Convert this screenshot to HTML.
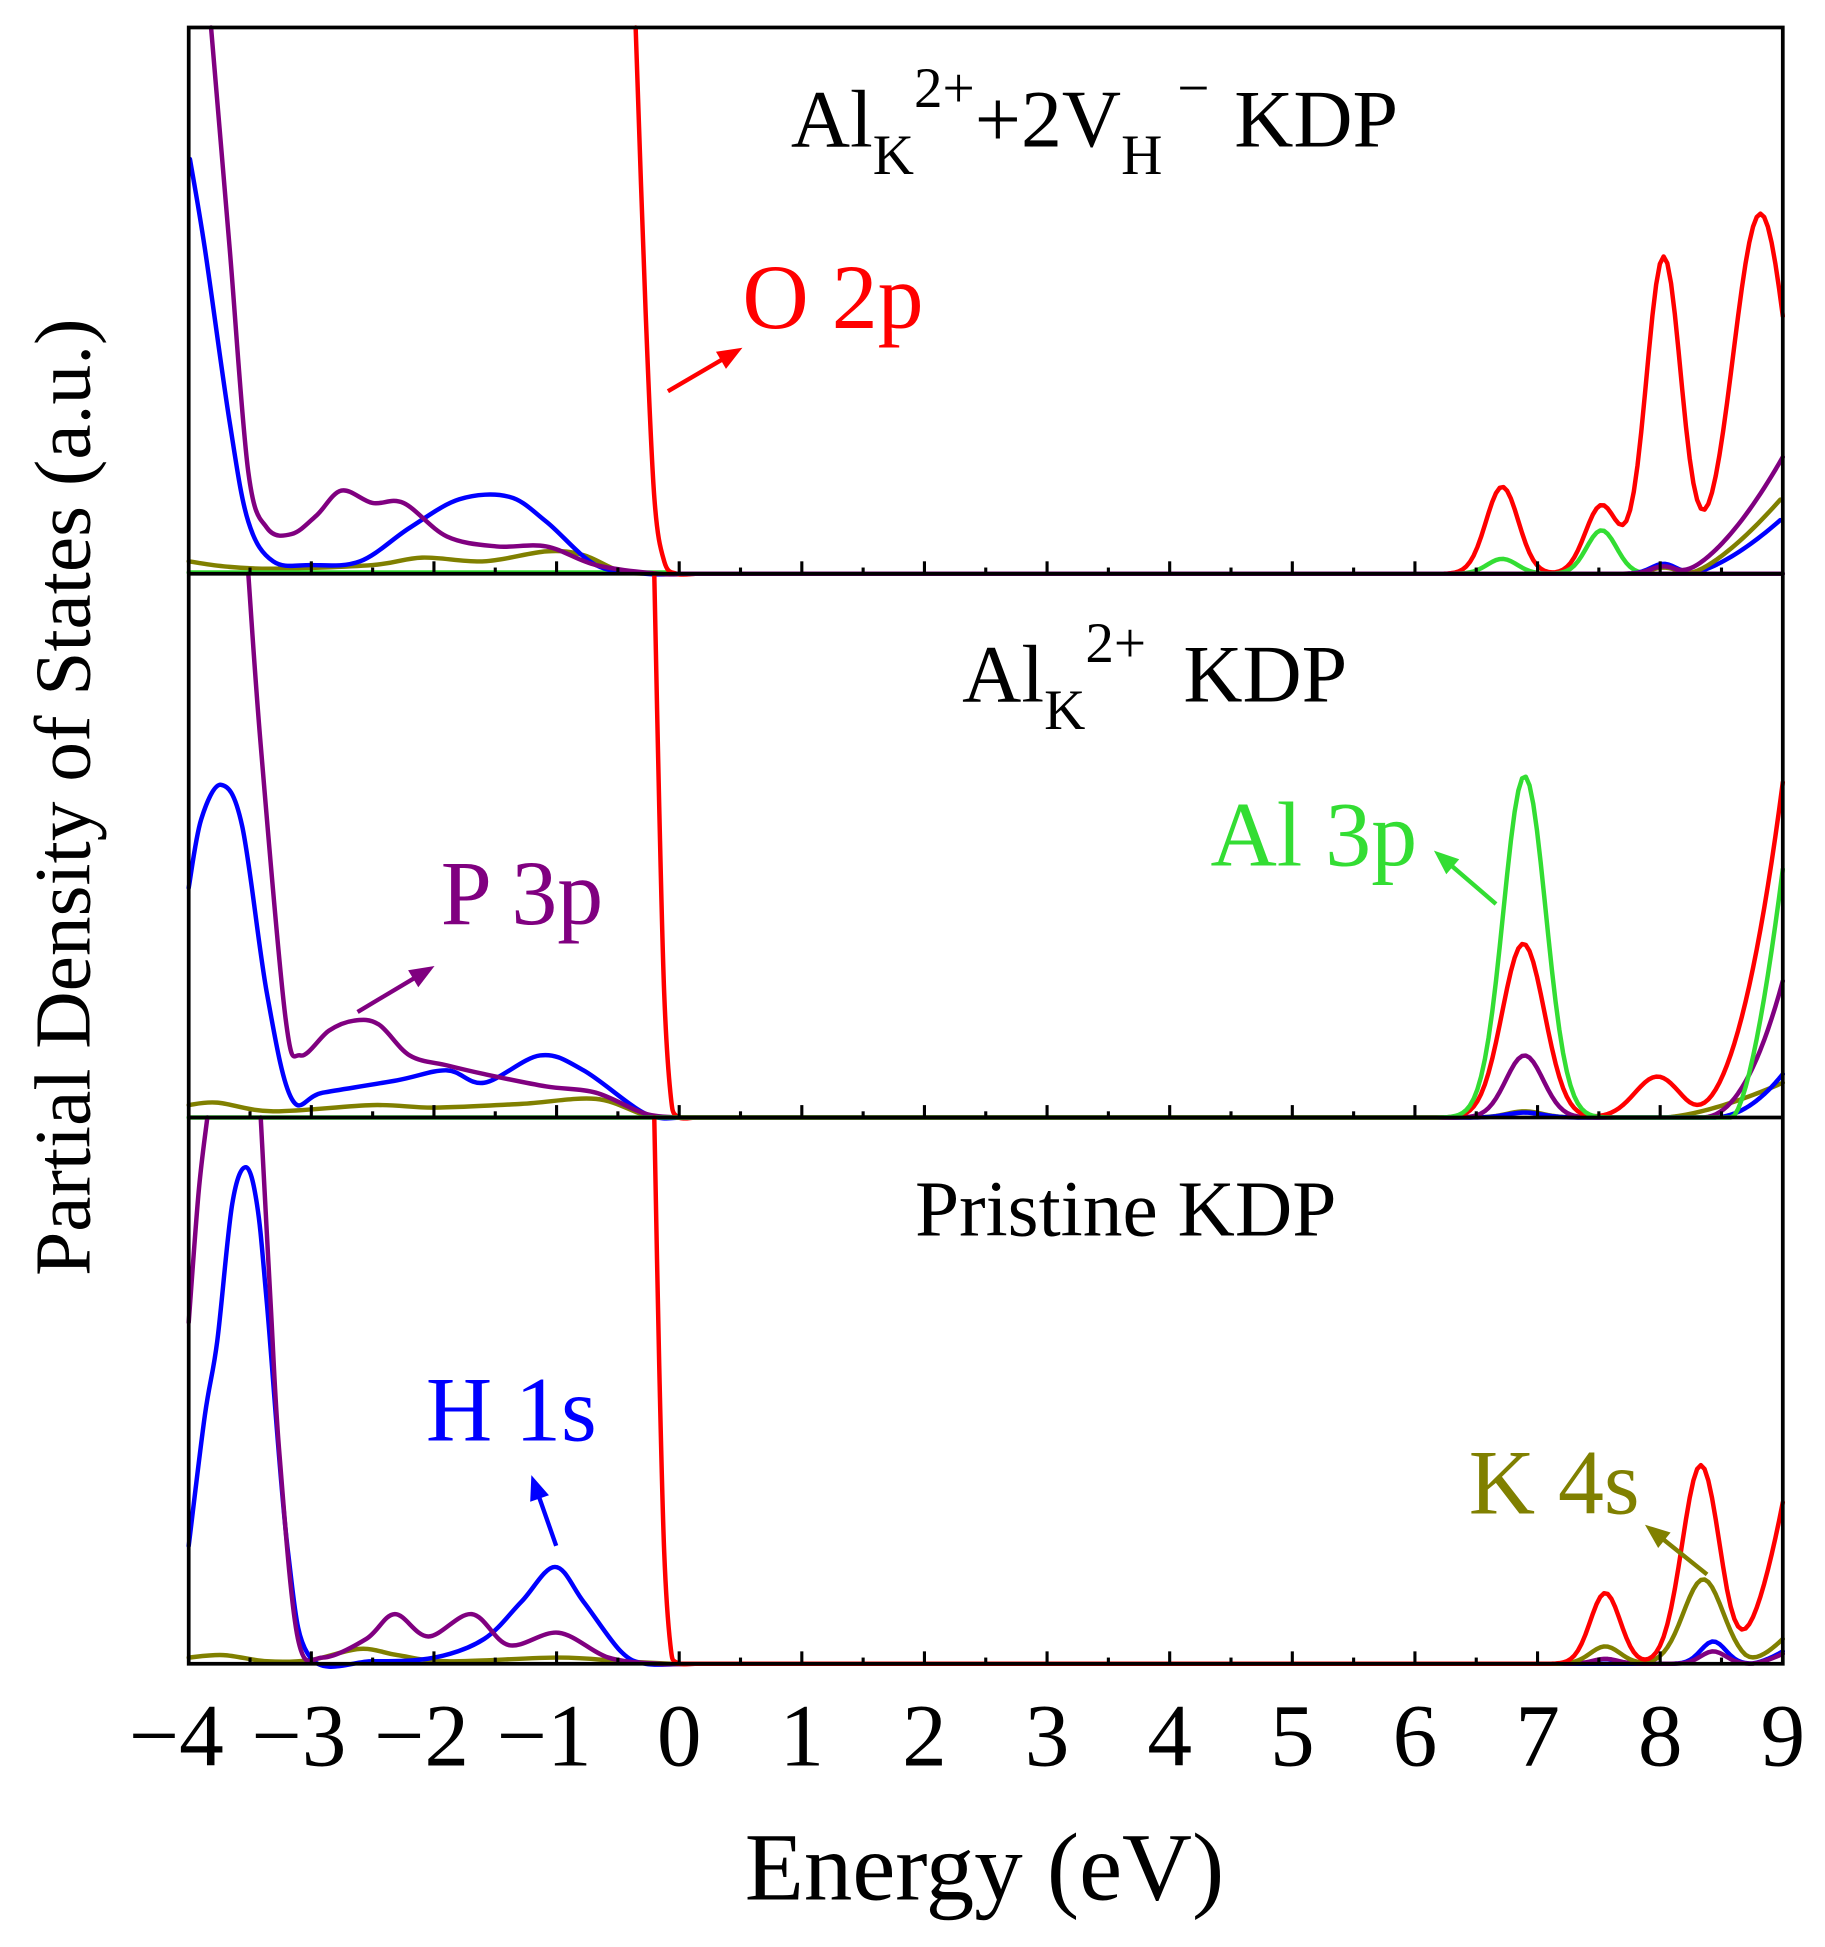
<!DOCTYPE html>
<html><head><meta charset="utf-8"><style>
html,body{margin:0;padding:0;background:#fff;}
svg{display:block;}
text{font-family:"Liberation Serif",serif;}
</style></head><body>
<svg id="s" width="1825" height="1947" viewBox="0 0 1470 1568" xmlns="http://www.w3.org/2000/svg">
<rect width="1470" height="1568" fill="#fff"/>
<g id="curves" fill="none" stroke-width="3.6" stroke-linejoin="round" stroke-linecap="round"></g>
<g id="ticks" stroke="#000" stroke-width="2.5"></g>
<rect x="152" y="22" width="1284" height="1318" fill="none" stroke="#000" stroke-width="3"/>
<line x1="152" y1="462" x2="1436" y2="462" stroke="#000" stroke-width="3"/>
<line x1="152" y1="900" x2="1436" y2="900" stroke="#000" stroke-width="3"/>
<g font-size="66">
<text x="637" y="118">Al<tspan font-size="46" dy="22">K</tspan><tspan font-size="46" dy="-54">2+</tspan><tspan dy="32">+2V</tspan><tspan font-size="46" dy="22">H</tspan><tspan font-size="46" dy="-54" dx="12">−</tspan><tspan dy="32" dx="20">KDP</tspan></text>
<text x="775" y="565">Al<tspan font-size="46" dy="22">K</tspan><tspan font-size="46" dy="-54">2+</tspan><tspan dy="32" dx="30">KDP</tspan></text>
<text x="737" y="995" font-size="64">Pristine KDP</text>
</g>
<g font-size="74">
<text x="598" y="264" fill="#ff0000">O 2p</text>
<text x="355" y="744" fill="#800080">P 3p</text>
<text x="975" y="697" fill="#33dd33">Al 3p</text>
<text x="343" y="1160" fill="#0000ff">H 1s</text>
<text x="1183" y="1219" fill="#808000">K 4s</text>
</g>
<g stroke-width="3.5" id="arrows"></g>
<g font-size="72" text-anchor="middle" id="xl"></g>
<text x="793" y="1530" font-size="78" text-anchor="middle">Energy (eV)</text>
<text transform="translate(72,642) rotate(-90)" font-size="64" text-anchor="middle">Partial Density of States (a.u.)</text>
</svg>
<script>
var NS="http://www.w3.org/2000/svg";
function X(e){return 152+(e+4)*98.77;}
function cr(p){var d="M"+p[0][0]+","+p[0][1];for(var i=0;i<p.length-1;i++){var p0=p[i-1]||p[i],p1=p[i],p2=p[i+1],p3=p[i+2]||p2;
d+=" C"+(p1[0]+(p2[0]-p0[0])/6)+","+(p1[1]+(p2[1]-p0[1])/6)+" "+(p2[0]-(p3[0]-p1[0])/6)+","+(p2[1]-(p3[1]-p1[1])/6)+" "+p2[0]+","+p2[1];}return d;}
function gs(base,x0,x1,peaks,extra){var p=[];for(var x=x0;x<=x1;x+=3){var y=0;peaks.forEach(function(k){y+=k[1]*Math.exp(-Math.pow((x-k[0])/k[2],2)/2);});if(extra)y+=extra(x);p.push([x,Math.min(base,base-y)]);}return p;}
function rise(x0,h,p){return function(x){return x>x0?h*Math.pow((x-x0)/(1436-x0),p):0;};}
var g=document.getElementById("curves");
function add(pts,c){var e=document.createElementNS(NS,"path");e.setAttribute("d",cr(pts));e.setAttribute("stroke",c);g.appendChild(e);}
function addL(pts,c){var e=document.createElementNS(NS,"path");e.setAttribute("d","M"+pts.map(function(p){return p[0]+","+p[1];}).join(" L"));e.setAttribute("stroke",c);g.appendChild(e);}
var R="#ff0000",B="#0000ff",P="#800080",O="#808000",G="#33dd33";
// panel 1
add([[152,452],[180,456],[220,458],[300,455],[340,449],[390,452],[440,444],[470,447],[500,460],[530,462],[560,462]],O);
add([[152,461],[540,461]],G);
add([[153,128],[165,200],[185,340],[200,420],[220,452],[250,455],[290,452],[330,425],[370,402],[410,400],[440,420],[480,455],[520,462],[550,462]],B);
add([[170,22],[185,200],[200,380],[215,425],[235,430],[255,415],[275,395],[300,405],[325,405],[360,432],[400,440],[440,440],[480,455],[530,462],[560,462]],P);
add([[512,22],[520,250],[527,400],[535,452],[545,462],[560,462]],R);
addL(gs(462,545,1436,[[1210,70,13],[1290,55,13],[1340,255,14],[1418,290,22]]),R);
addL(gs(462,545,1436,[[1210,12,12],[1290,35,12]]),G);
addL(gs(462,1170,1436,[[1340,8,10]],rise(1360,45,1.5)),B);
addL(gs(462,1170,1436,[[1340,5,10]],rise(1360,62,1.4)),O);
addL(gs(462,545,1436,[[1340,6,10]],rise(1350,94,1.6)),P);
addL([[545,462],[1436,462]],P);
// panel 2
add([[152,890],[175,888],[220,895],[300,890],[350,892],[420,889],[480,885],[520,898],[550,900]],O);
add([[152,715],[162,660],[178,632],[195,665],[215,800],[235,885],[260,880],[320,870],[360,862],[390,872],[435,850],[470,862],[520,897],[550,900]],B);
add([[200,462],[210,600],[230,820],[242,850],[265,830],[285,822],[305,825],[330,850],[360,858],[390,865],[440,875],[480,880],[520,897],[550,900]],P);
add([[527,462],[531,650],[535,800],[540,880],[545,899],[560,900]],R);
addL(gs(900,545,1436,[[1228,5,14]],rise(1340,28,1.5)),O);
addL(gs(900,545,1436,[[1228,4,14]],rise(1380,35,2)),B);
addL(gs(900,545,1436,[[1228,50,15]],rise(1370,110,2.2)),P);
addL(gs(900,545,1436,[[1227,140,17],[1335,33,18]],rise(1355,270,2.3)),R);
addL(gs(900,152,1436,[[1228,275,17]],rise(1395,200,1.6)),G);
// panel 3
add([[152,1335],[180,1333],[215,1338],[250,1337],[290,1328],[320,1333],[360,1338],[450,1335],[500,1338],[540,1340]],O);
add([[152,1245],[165,1140],[175,1080],[187,970],[198,940],[207,970],[215,1050],[232,1250],[250,1335],[300,1338],[350,1335],[390,1320],[420,1290],[447,1262],[470,1290],[500,1330],[520,1340],[550,1340]],B);
add([[152,1065],[160,960],[167,900]],P);
add([[210,900],[218,1050],[225,1170],[240,1320],[260,1335],[295,1320],[318,1300],[345,1318],[380,1300],[410,1325],[450,1315],[490,1335],[530,1340],[560,1340]],P);
add([[527,900],[531,1100],[535,1250],[540,1325],[545,1339],[560,1340]],R);
addL(gs(1340,545,1436,[[1380,18,10]],rise(1410,10,1.5)),B);
addL(gs(1340,545,1436,[[1380,10,10],[1293,4,10]],rise(1410,8,1.5)),P);
addL(gs(1340,545,1436,[[1293,14,12],[1372,68,16]],rise(1405,20,1.5)),O);
addL(gs(1340,545,1436,[[1293,57,12],[1370,160,15]],rise(1390,130,1.8)),R);
// ticks
var t=document.getElementById("ticks");
[462,900,1340].forEach(function(b){for(var e=-4;e<=9;e+=0.5){var x=X(e),l=(e%1===0)?10:5;var ln=document.createElementNS(NS,"line");ln.setAttribute("x1",x);ln.setAttribute("x2",x);ln.setAttribute("y1",b);ln.setAttribute("y2",b-l);t.appendChild(ln);}});
var xl=document.getElementById("xl");
for(var e=-4;e<=9;e++){var tx=document.createElementNS(NS,"text");tx.setAttribute("x",X(e)-(e<0?10:0));tx.setAttribute("y",1422);tx.textContent=(e<0?"−":"")+Math.abs(e);xl.appendChild(tx);}
// arrows
var ar=document.getElementById("arrows");
function arrow(x1,y1,x2,y2,c){var a=Math.atan2(y2-y1,x2-x1),L=20,W=8;
var ln=document.createElementNS(NS,"line");ln.setAttribute("x1",x1);ln.setAttribute("y1",y1);ln.setAttribute("x2",x2-Math.cos(a)*L*0.8);ln.setAttribute("y2",y2-Math.sin(a)*L*0.8);ln.setAttribute("stroke",c);ar.appendChild(ln);
var bx=x2-Math.cos(a)*L,by=y2-Math.sin(a)*L;var pg=document.createElementNS(NS,"polygon");
pg.setAttribute("points",x2+","+y2+" "+(bx-Math.sin(a)*W)+","+(by+Math.cos(a)*W)+" "+(bx+Math.sin(a)*W)+","+(by-Math.cos(a)*W));pg.setAttribute("fill",c);ar.appendChild(pg);}
arrow(538,315,598,280,R);arrow(288,815,350,778,P);arrow(1205,728,1155,685,G);arrow(448,1245,428,1188,B);arrow(1375,1268,1325,1228,O);
</script>
</body></html>
